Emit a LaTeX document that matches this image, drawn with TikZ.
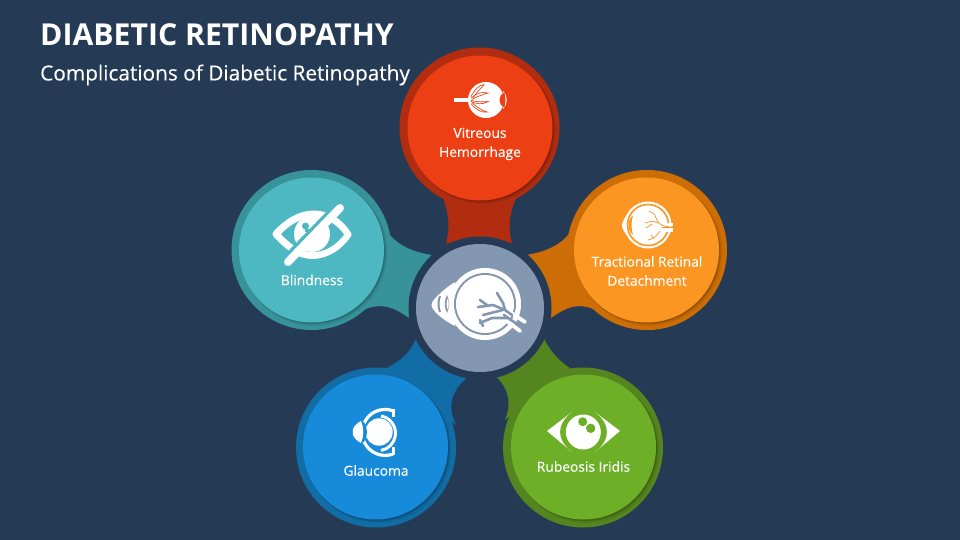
\documentclass[tikz,border=0pt]{standalone}
\usepackage{fontspec}
\setmainfont{Open Sans}
\newfontfamily\medfont[FakeBold=0.25]{Open Sans}
\definecolor{bgc}{HTML}{253B55}
\definecolor{redL}{HTML}{EC3F13}\definecolor{redD}{HTML}{B22D0F}
\definecolor{orgL}{HTML}{FB9623}\definecolor{orgD}{HTML}{CC6E05}
\definecolor{grnL}{HTML}{6EAF28}\definecolor{grnD}{HTML}{55851E}
\definecolor{bluL}{HTML}{178BD9}\definecolor{bluD}{HTML}{126CA6}
\definecolor{tealL}{HTML}{4DB8C1}\definecolor{tealD}{HTML}{37929A}
\definecolor{gryL}{HTML}{8497B0}
\tikzset{
  label text/.style={text=white,font=\medfont\fontsize{13.8}{19}\selectfont,align=center,inner sep=0pt},
  title text/.style={text=white,anchor=west,inner sep=0pt},
  hubvein/.style={draw=gryL,line width=2.6,line cap=round,line join=round},
  hubnerve/.style={draw=white,line width=3.8,line cap=round},
}
\newcommand{\petalBack}[3]{\fill[#3] (#1,#2) circle[radius=80];}
\newcommand{\petalFront}[3]{%
  \fill[black,opacity=.06] (#1+2.5,#2+2.5) circle[radius=73.5];
  \fill[black,opacity=.10] (#1+1.5,#2+1.5) circle[radius=73];
  \fill[black,opacity=.12] (#1+1,#2+1) circle[radius=72.5];
  \fill[#3] (#1,#2) circle[radius=72.5];}
\begin{document}
\begin{tikzpicture}[x=1pt,y=-1pt]
\useasboundingbox (0,0) rectangle (960,540);
\fill[bgc] (0,0) rectangle (960,540);
% necks
\fill[redD] (440,190) .. controls (446,205) and (452,222) .. (446,243) -- (512,243) .. controls (506,222) and (512,205) .. (520,190) -- cycle;
\fill[tealD] (380,216) .. controls (386,236) and (400,250) .. (432,255) -- (412,320) .. controls (395,308) and (380,298) .. (352,316) -- cycle;
\fill[orgD] (578,216) .. controls (572,236) and (558,250) .. (526,255) -- (548,320) .. controls (565,308) and (580,298) .. (606,316) -- cycle;
\fill[grnD] (488,370) .. controls (502,380) and (515,395) .. (505,420) -- (570,368) .. controls (560,362) and (548,350) .. (541,332) -- cycle;
\fill[bluD] (418,333) .. controls (412,352) and (402,360) .. (385,369) -- (456,425) .. controls (446,405) and (452,388) .. (472,374) -- cycle;
% outer circles
\petalBack{479.5}{127.5}{redD}{redL}
\petalBack{311.5}{250}{tealD}{tealL}
\petalBack{647}{250}{orgD}{orgL}
\petalBack{583}{447.5}{grnD}{grnL}
\petalBack{376}{447.5}{bluD}{bluL}
% inner circles
\petalFront{480}{128}{redL}
\petalFront{311.5}{250}{tealL}
\petalFront{646.5}{250}{orgL}
\petalFront{583.5}{447}{grnL}
\petalFront{375.5}{447}{bluL}
% hub
\fill[bgc] (480,308) circle[radius=71.5];
\fill[gryL] (480,308) circle[radius=64];
% hub icon
\fill[white] (485,304) circle[radius=36];
\fill[white] (455,282) .. controls (445,288) and (436,297) .. (433,301) .. controls (431,304) and (431,306) .. (433,309) .. controls (438,316) and (447,322) .. (455,326) -- cycle;
\fill[gryL] (485,304) circle[radius=31];
\fill[white] (485,304) circle[radius=29];
\fill[gryL] (447,295) .. controls (444,301) and (444,307) .. (447,313) .. controls (450,307) and (450,301) .. (447,295) -- cycle;
\draw[gryL,line width=2] (440,296) .. controls (438,301) and (438,307) .. (440,312);
\fill[white] (448,298) .. controls (446,302) and (446,306) .. (448,310) .. controls (449,306) and (449,302) .. (448,298) -- cycle;
\draw[hubnerve] (510,312) -- (525,322);
\draw[hubnerve] (508,322) -- (520,331);
\draw[hubvein] (504,315) -- (524,329);
\draw[hubvein] (497,293) -- (503,303) -- (505,310);
\draw[hubvein] (480,300) -- (487,305);
\draw[hubvein] (478,307) -- (493,305) -- (505,310) -- (512,315);
\draw[hubvein] (483,315) -- (503,310);
\draw[hubvein] (480,323) -- (492,318) -- (508,318);
\draw[hubvein] (480,320) -- (483,326);
% vitreous icon
\fill[white] (486,100) circle[radius=18];
\fill[white] (454,97.7) rectangle (475,102.3);
\fill[white] (503,91) .. controls (508,96) and (508,104) .. (503,109) -- cycle;
\fill[redL] (504,92.5) .. controls (498,95) and (498,105) .. (504,107.5) .. controls (506,104) and (506,96) .. (504,92.5) -- cycle;
\begin{scope}[draw=redL,line width=.65]
\draw (471,97) .. controls (474,90) and (479,85) .. (484,84.5) .. controls (483,87) and (478,90) .. (473,98);
\draw (471,98.5) .. controls (476,93) and (482,91.5) .. (488,93) .. controls (483,95) and (477,96) .. (472,99.5);
\draw (471,100.5) .. controls (477,102) and (482,102) .. (488,101.5) .. controls (483,105) and (476,104) .. (471,101.5);
\draw (472,102.5) .. controls (476,106) and (480,110) .. (487,112) .. controls (482,113) and (476,110) .. (471,103.5);
\end{scope}
% tractional icon
\fill[white] (622,224) .. controls (624,218) and (628,212) .. (634,207) -- (634,243) .. controls (628,238) and (624,232) .. (622,227) -- cycle;
\fill[white] (648,225) circle[radius=23.5];
\draw[orgL,line width=1.6] (648,225) circle[radius=20.5];
\fill[white] (660,222.5) rectangle (672.5,226);
\fill[white] (660,228) rectangle (672.5,231.5);
\fill[orgL] (662,226.5) rectangle (672.5,228);
\fill[orgL] (633,215.5) .. controls (627,220) and (627,230) .. (633,235) .. controls (631,229) and (631,221) .. (633,215.5) -- cycle;
\begin{scope}[draw=orgL,line width=.75]
\draw (649,211.5) .. controls (653,212) and (655,214) .. (656,218) .. controls (657,222) and (661,226) .. (668,227);
\draw (645,223) .. controls (650,221) and (654,221) .. (658,223);
\draw (646,228) -- (652,224);
\draw (648,240) .. controls (653,239) and (657,236) .. (660,231);
\draw (651,235) -- (654,238.5);
\end{scope}
% blindness icon
\draw[white,line width=7,line join=round] (276,234) .. controls (287,222) and (300,214) .. (314,214) .. controls (328,214) and (340,222) .. (348,234.5) .. controls (340,246) and (328,255) .. (313,255.5) .. controls (298,255.5) and (287,246) .. (276,234) -- cycle;
\fill[tealL] (283,234) .. controls (291,226) and (302,218) .. (314,218) .. controls (326,218) and (337,225) .. (344,234.5) .. controls (337,244) and (326,252) .. (313,252) .. controls (301,252) and (291,243) .. (283,234) -- cycle;
\fill[white] (312,234) circle[radius=18];
\fill[tealL] (305.5,226) circle[radius=3.5];
\fill[tealL] (305,229) rectangle (309,232);
\draw[tealL,line width=5] (336.5,205) -- (283.5,259.5);
\draw[white,line width=8,line cap=round] (340,208) -- (288,262);
% glaucoma icon
\draw[white,line width=3.2] (393,410.8) arc[start angle=-70,end angle=-290,radius=23];
\fill[white] (391.5,409) rectangle (394.5,417);
\fill[white] (391.5,447) rectangle (394.5,455);
\draw[white,line width=3] (381,416) arc[start angle=-80,end angle=80,radius=17.5];
\fill[white] (379,432) circle[radius=13.7];
\fill[bluL] (364,422) .. controls (368,428) and (368,436) .. (364,442) -- (358,442) -- (358,422) -- cycle;
\fill[white] (361,421) .. controls (354,425) and (352,429) .. (353,432) .. controls (352,435) and (354,439) .. (361,443) .. controls (364,436) and (364,428) .. (361,421) -- cycle;
% rubeosis icon
\fill[white] (547,431) -- (572,412) .. controls (556,424) and (556,440) .. (572,452) -- cycle;
\fill[white] (620,431) -- (595,412) .. controls (611,424) and (611,440) .. (595,452) -- cycle;
\fill[white] (583.3,432) circle[radius=17.5];
\fill[grnL] (582.7,421.7) circle[radius=4.5];
\fill[grnL] (590.7,428.3) circle[radius=4.7];
% labels
\node[title text,font=\bfseries\fontsize{30.2}{36}\selectfont] (title) at (40,35) {DIABETIC RETINOPATHY};
\node[title text,font=\medfont\fontsize{20.8}{24}\selectfont] (subtitle) at (40,75) {Complications of Diabetic Retinopathy};
\node[label text] (vit) at (480,144) {Vitreous\\Hemorrhage};
\node[label text] (bli) at (312,280) {Blindness};
\node[label text] (tra) at (647,271) {Tractional Retinal\\Detachment};
\node[label text] (gla) at (376,470.5) {Glaucoma};
\node[label text] (rub) at (583.5,466.5) {Rubeosis Iridis};
\end{tikzpicture}
\end{document}
